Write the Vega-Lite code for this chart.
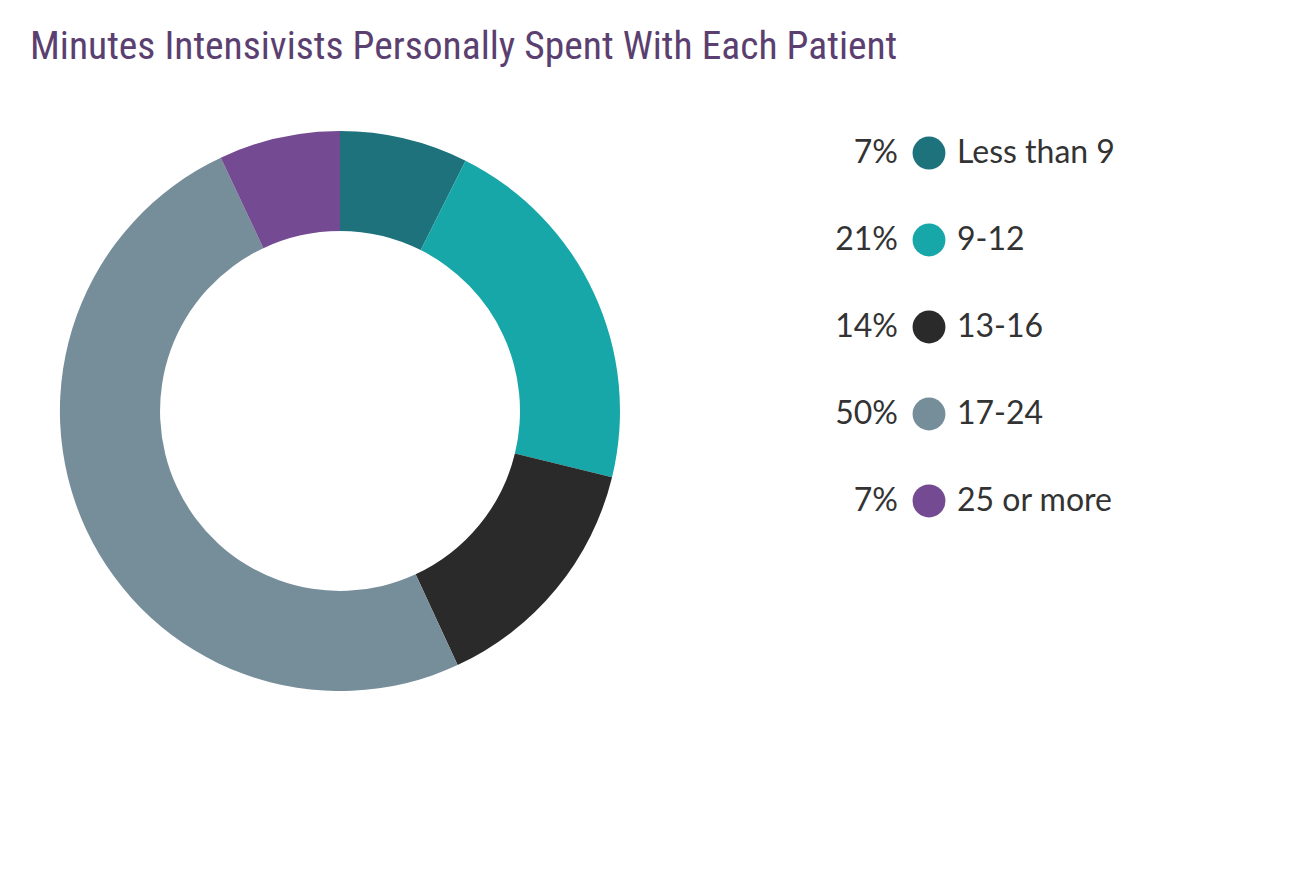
{
  "$schema": "https://vega.github.io/schema/vega-lite/v6.json",
  "padding": {"left": 30, "top": 26, "right": 0, "bottom": 0},
  "background": "white",
  "bounds": "flush",
  "title": {
    "text": "Minutes Intensivists Personally Spent With Each Patient",
    "anchor": "start",
    "frame": "group",
    "font": "Roboto Condensed, Liberation Sans Narrow, DejaVu Sans Condensed, Roboto",
    "fontSize": 39.5,
    "fontWeight": "normal",
    "color": "#5b3f70",
    "offset": 64
  },
  "data": {
    "values": [
      {"category": "Less than 9", "order": 1, "value": 7.4, "label": "7%"},
      {"category": "9-12", "order": 2, "value": 21.4, "label": "21%"},
      {"category": "13-16", "order": 3, "value": 14.3, "label": "14%"},
      {"category": "17-24", "order": 4, "value": 49.9, "label": "50%"},
      {"category": "25 or more", "order": 5, "value": 7.0, "label": "7%"}
    ]
  },
  "config": {"view": {"stroke": null}},
  "spacing": 249,
  "hconcat": [
    {
      "width": 620,
      "height": 560,
      "mark": {"type": "arc", "outerRadius": 280, "innerRadius": 180},
      "encoding": {
        "theta": {"field": "value", "type": "quantitative", "stack": true},
        "order": {"field": "order", "type": "quantitative"},
        "color": {
          "field": "category",
          "type": "nominal",
          "sort": ["Less than 9", "9-12", "13-16", "17-24", "25 or more"],
          "scale": {
            "domain": ["Less than 9", "9-12", "13-16", "17-24", "25 or more"],
            "range": ["#1e727c", "#17a7a8", "#2a2a2a", "#768e9a", "#744a93"]
          },
          "legend": null
        }
      }
    },
    {
      "width": 60,
      "height": 392,
      "encoding": {
        "y": {
          "field": "category",
          "type": "nominal",
          "sort": ["Less than 9", "9-12", "13-16", "17-24", "25 or more"],
          "scale": {"type": "point", "padding": 0.253},
          "axis": null
        }
      },
      "layer": [
        {
          "mark": {"type": "point", "filled": true, "size": 1080, "shape": "circle", "opacity": 1},
          "encoding": {
            "color": {
              "field": "category",
              "type": "nominal",
              "scale": {
                "domain": ["Less than 9", "9-12", "13-16", "17-24", "25 or more"],
                "range": ["#1e727c", "#17a7a8", "#2a2a2a", "#768e9a", "#744a93"]
              },
              "legend": null
            }
          }
        },
        {
          "mark": {"type": "text", "align": "right", "baseline": "middle", "dx": -31, "font": "Lato", "fontSize": 32, "color": "#333333"},
          "encoding": {"text": {"field": "label"}}
        },
        {
          "mark": {"type": "text", "align": "left", "baseline": "middle", "dx": 28, "font": "Lato", "fontSize": 32, "color": "#333333"},
          "encoding": {"text": {"field": "category"}}
        }
      ]
    }
  ]
}
